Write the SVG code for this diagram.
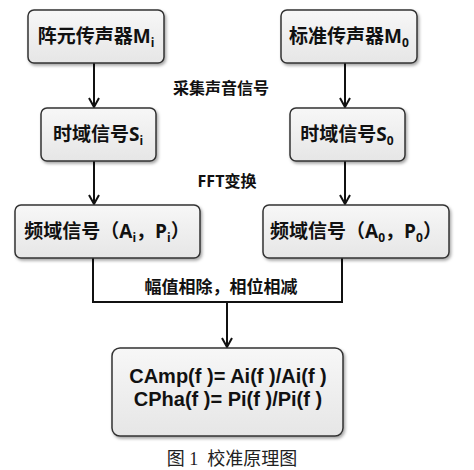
<svg xmlns="http://www.w3.org/2000/svg" width="474" height="470" viewBox="0 0 474 470">
<defs>
<linearGradient id="g" x1="0" y1="0" x2="0" y2="1">
<stop offset="0" stop-color="#f7f7f7"/>
<stop offset="1" stop-color="#e6e6e6"/>
</linearGradient>
<filter id="sh" x="-10%" y="-10%" width="130%" height="140%">
<feDropShadow dx="1.5" dy="2" stdDeviation="1.5" flood-color="#000" flood-opacity="0.35"/>
</filter>
<marker id="ah" viewBox="0 0 12 12" refX="10" refY="6" markerWidth="12" markerHeight="12" markerUnits="userSpaceOnUse" orient="auto">
<path d="M1,1 L10,6 L1,11" fill="none" stroke="#111" stroke-width="2"/>
</marker>
<style>
.box{fill:url(#g);stroke:#333;stroke-width:1.5;filter:url(#sh)}
.t{font-family:"Open Sans","Noto Sans CJK SC",sans-serif;font-weight:bold;font-size:19px;fill:#111;text-anchor:middle}
.l{font-family:"Open Sans","Noto Sans CJK SC",sans-serif;font-weight:bold;font-size:16px;fill:#111;text-anchor:middle}
.f{font-family:"Liberation Sans",sans-serif;font-weight:bold;font-size:20px;fill:#111;text-anchor:middle}
.c{font-family:"Liberation Serif","Noto Sans CJK SC",serif;font-size:18px;fill:#222;text-anchor:middle}
.s{font-size:12px}
.ln{fill:none;stroke:#111;stroke-width:2}
</style>
</defs>
<rect width="474" height="470" fill="#fff"/>
<g id="connectors">
<line class="ln" x1="94" y1="63" x2="94" y2="107" marker-end="url(#ah)"/>
<line class="ln" x1="345" y1="63" x2="345" y2="107" marker-end="url(#ah)"/>
<line class="ln" x1="94" y1="161" x2="94" y2="204" marker-end="url(#ah)"/>
<line class="ln" x1="345" y1="161" x2="345" y2="204" marker-end="url(#ah)"/>
<polyline class="ln" points="93,258 93,302 342,302 342,258"/>
<line class="ln" x1="227" y1="302" x2="227" y2="347" marker-end="url(#ah)"/>
<text class="l" x="221" y="94">采集声音信号</text>
<text class="l" x="227" y="187">FFT变换</text>
<text class="l" x="221" y="293" style="font-size:17px">幅值相除，相位相减</text>
</g>
<g id="node-mi">
<rect class="box" x="28" y="10" width="136" height="53" rx="6"/>
<text class="t" x="96" y="43">阵元传声器M<tspan class="s" dy="4">i</tspan></text>
</g>
<g id="node-m0">
<rect class="box" x="281" y="10" width="136" height="53" rx="6"/>
<text class="t" x="349" y="43">标准传声器M<tspan class="s" dy="4">0</tspan></text>
</g>
<g id="node-si">
<rect class="box" x="41" y="108" width="115" height="53" rx="6"/>
<text class="t" x="98" y="141">时域信号S<tspan class="s" dy="4">i</tspan></text>
</g>
<g id="node-s0">
<rect class="box" x="290" y="108" width="115" height="53" rx="6"/>
<text class="t" x="347" y="141">时域信号S<tspan class="s" dy="4">0</tspan></text>
</g>
<g id="node-ai">
<rect class="box" x="15" y="205" width="185" height="53" rx="6"/>
<text class="t" x="107" y="238">频域信号（A<tspan class="s" dy="4">i</tspan><tspan dy="-4">，P</tspan><tspan class="s" dy="4">i</tspan><tspan dy="-4">）</tspan></text>
</g>
<g id="node-a0">
<rect class="box" x="263" y="205" width="186" height="53" rx="6"/>
<text class="t" x="356" y="238">频域信号（A<tspan class="s" dy="4">0</tspan><tspan dy="-4">，P</tspan><tspan class="s" dy="4">0</tspan><tspan dy="-4">）</tspan></text>
</g>
<g id="node-result">
<rect class="box" x="112" y="348" width="231" height="88" rx="8"/>
<text class="f" x="228" y="383">CAmp(f )= Ai(f )/Ai(f )</text>
<text class="f" x="228" y="406">CPha(f )= Pi(f )/Pi(f )</text>
</g>
<text class="c" x="232" y="465" xml:space="preserve">图 1  校准原理图</text>
</svg>
